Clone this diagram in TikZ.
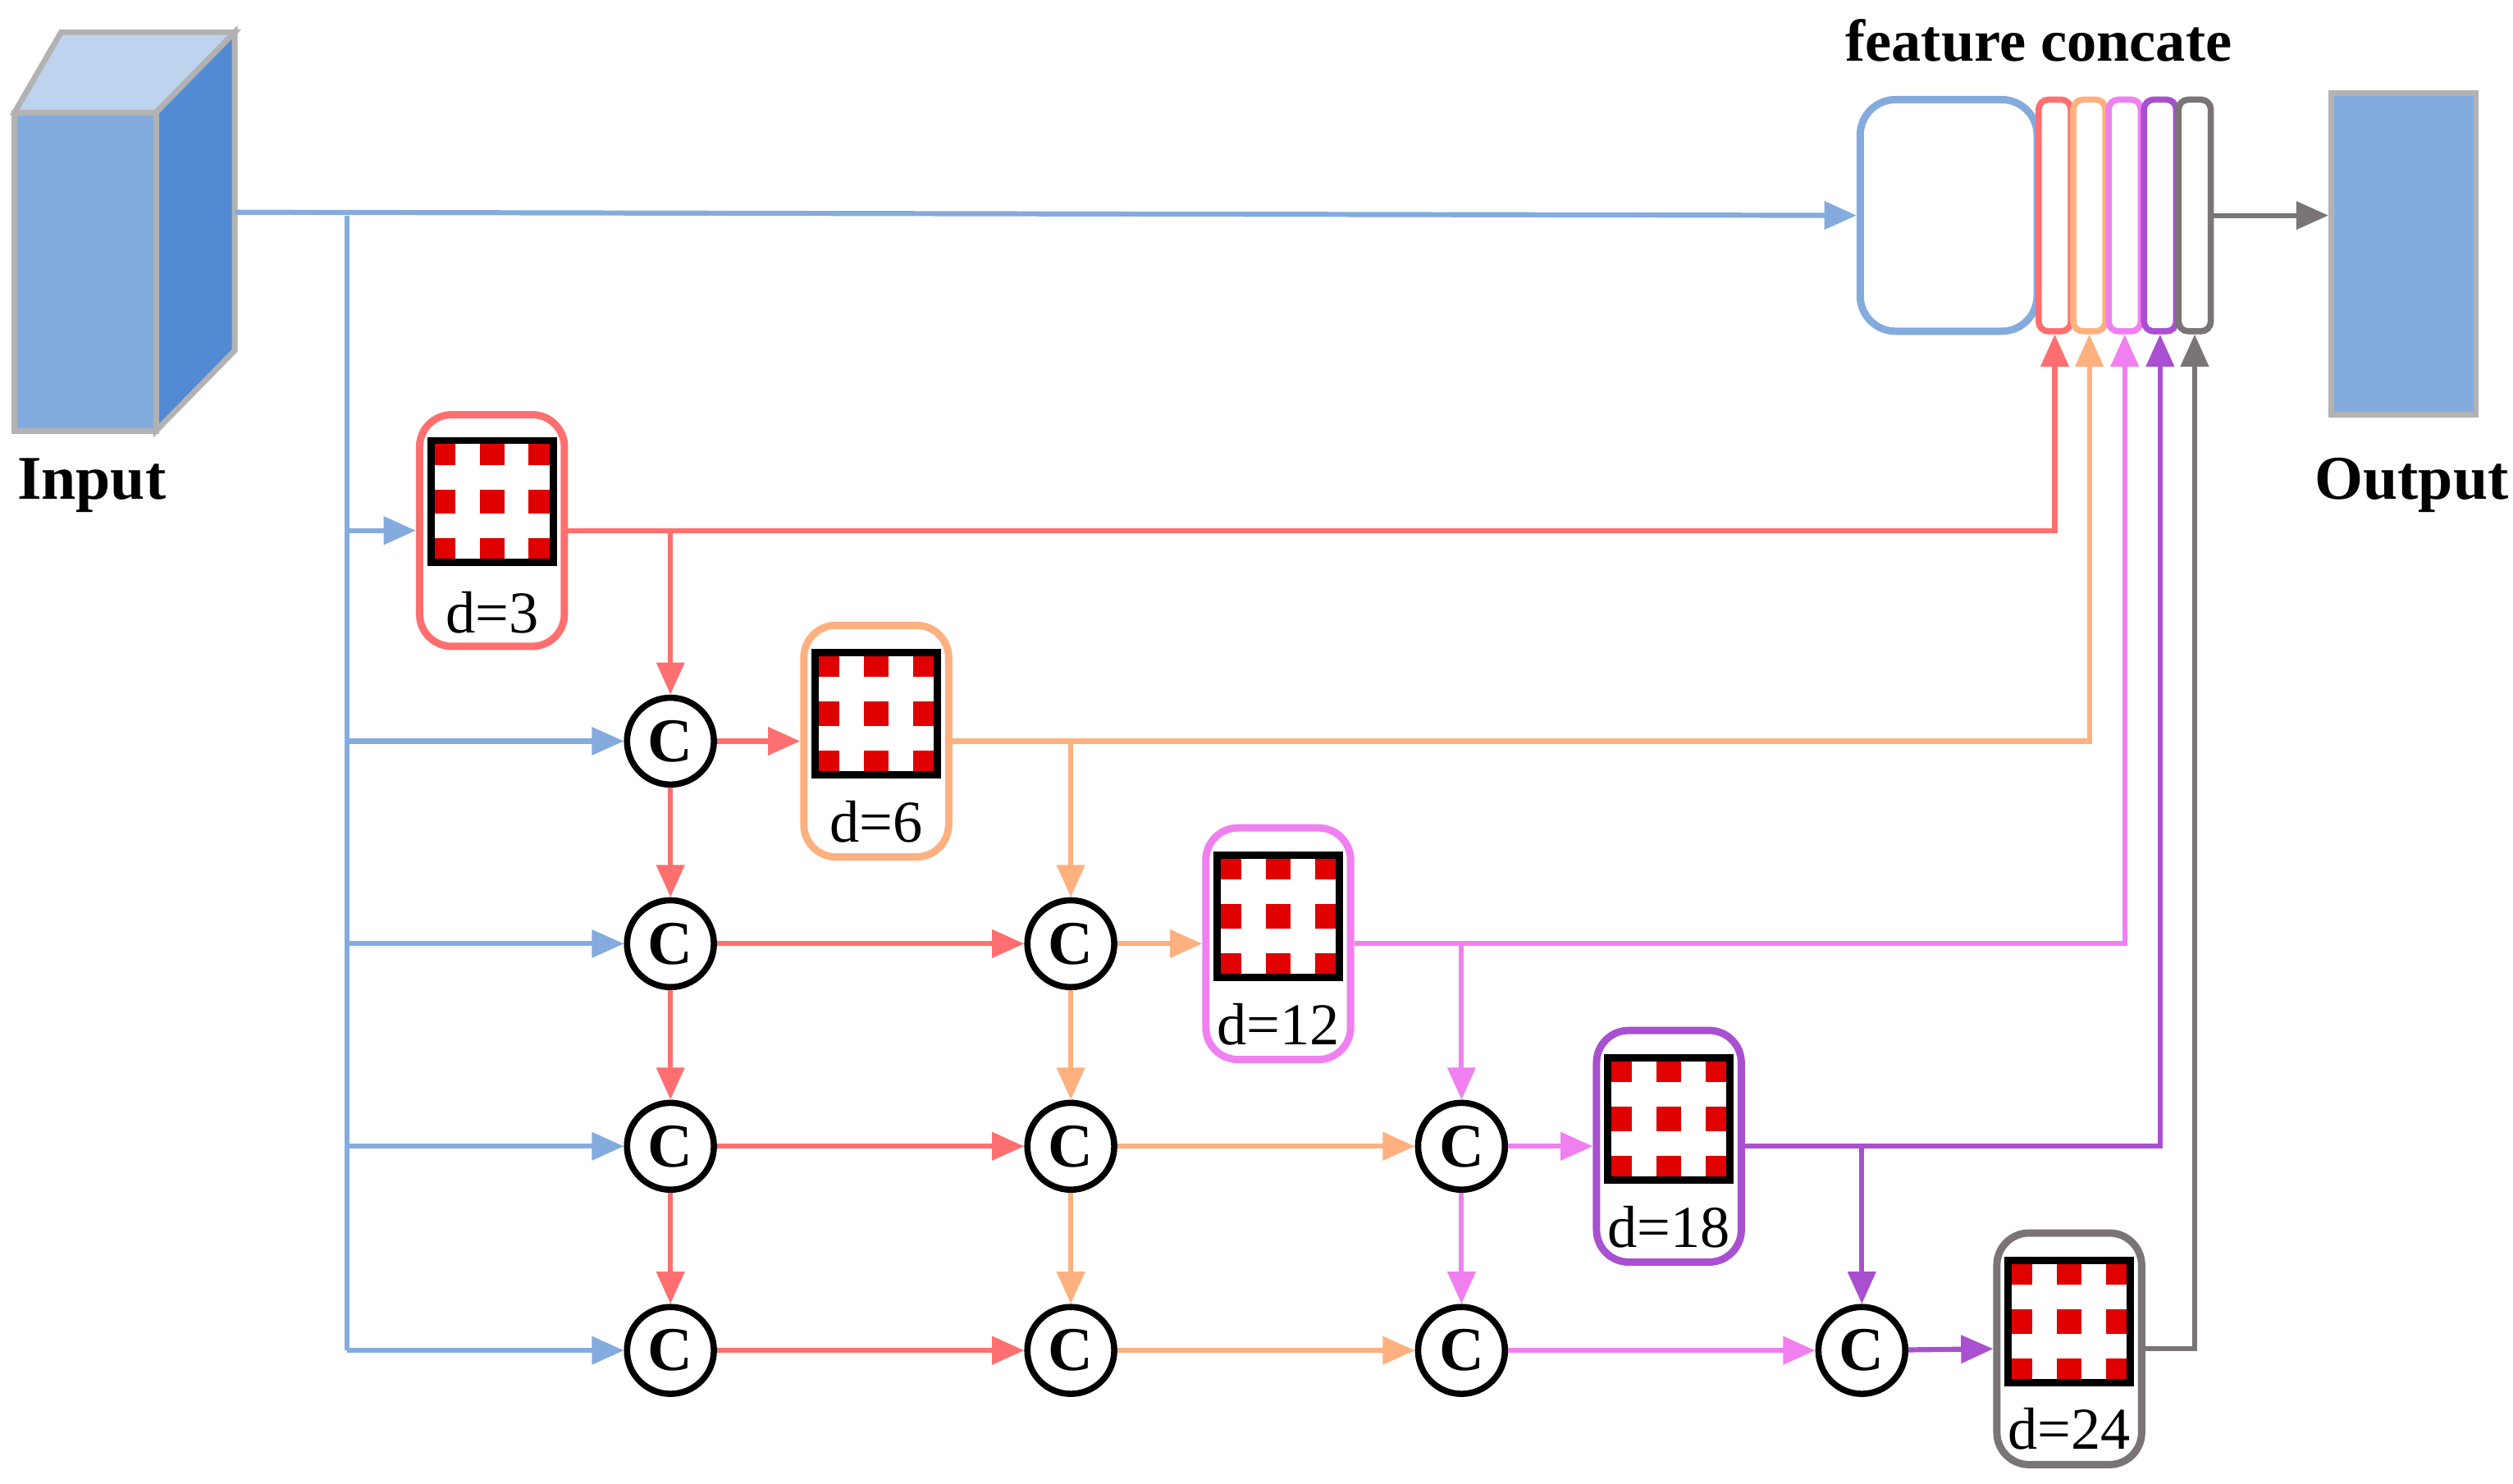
\documentclass[tikz,border=0pt]{standalone}
\usepackage{fontspec}
\setmainfont{Liberation Serif}
\usetikzlibrary{arrows.meta}
\definecolor{cb}{HTML}{84ABDD}
\definecolor{ctop}{HTML}{BDD3EE}
\definecolor{cside}{HTML}{528AD4}
\definecolor{cr}{HTML}{FF6F6F}
\definecolor{co}{HTML}{FFB07F}
\definecolor{cp}{HTML}{F080F0}
\definecolor{cu}{HTML}{A850D0}
\definecolor{cg}{HTML}{7A7474}
\definecolor{pr}{HTML}{E00000}
\begin{document}
\begin{tikzpicture}[x=0.01cm,y=-0.01cm,
  ln/.style={line width=0.9pt,-{Triangle[length=2mm,width=1.7mm]}},
  pl/.style={line width=0.9pt},
  cc/.style={circle,draw=black,line width=1.1pt,minimum size=0.54cm,inner sep=0pt,font=\fontsize{11}{12}\selectfont\bfseries},
  db/.style={draw=#1,line width=1.3pt,rounded corners=2mm,minimum width=0.9cm,minimum height=1.44cm,inner sep=0pt},
  lab/.style={font=\fontsize{10.5}{12}\selectfont},
  strip/.style={draw=#1,line width=1.1pt,rounded corners=0.6mm,minimum width=0.2cm,minimum height=1.44cm,inner sep=0pt}]
\useasboundingbox (0,0) rectangle (1563,923);
\newcommand{\dpat}[2]{%
  \begin{scope}[shift={(#1,#2)}]
  \foreach \i in {0,2,4}{\foreach \j in {0,2,4}{
    \fill[pr] (-38+\i*15.2,-38+\j*15.2) rectangle ++(15.2,15.2);}}
  \draw[line width=1.3pt] (-38,-38) rectangle (38,38);
  \end{scope}}
% input cube
\draw[gray!60,line width=1pt,fill=ctop] (9,70) -- (38,20) -- (146,20) -- (97,70) -- cycle;
\draw[gray!60,line width=1pt,fill=cside] (97,70) -- (146,20) -- (146,218) -- (97,268) -- cycle;
\draw[gray!60,line width=1pt,fill=cb] (9,70) rectangle (97,268);
\node[font=\fontsize{11}{13}\selectfont\bfseries] (tin) at (57,302) {Input};
\coordinate (inp) at (146,132);
% output
\node[draw=gray!60,line width=1pt,fill=cb,minimum width=0.9cm,minimum height=2cm,inner sep=0pt] (out) at (1495,158) {};
\node[font=\fontsize{11}{13}\selectfont\bfseries] (tout) at (1500,302) {Output};
% concat
\node[draw=cb,line width=1.3pt,rounded corners=2.2mm,minimum width=1.1cm,minimum height=1.44cm] (cat) at (1212,134) {};
\node[strip=cr] (s1) at (1278,134) {};
\node[strip=co] (s2) at (1299.5,134) {};
\node[strip=cp] (s3) at (1321.5,134) {};
\node[strip=cu] (s4) at (1343.5,134) {};
\node[strip=cg] (s5) at (1365,134) {};
\node[font=\fontsize{10.5}{12}\selectfont\bfseries] (tcat) at (1268,25) {feature concate};
% dilated boxes
\node[db=cr] (b3) at (306,330) {}; \dpat{306}{312} \node[lab] (l3) at (306,381) {d=3};
\node[db=co] (b6) at (545,461) {}; \dpat{545}{444} \node[lab] (l6) at (545,511) {d=6};
\node[db=cp] (b12) at (795,587) {}; \dpat{795}{570} \node[lab] (l12) at (795,637) {d=12};
\node[db=cu] (b18) at (1038,713) {}; \dpat{1038}{696} \node[lab] (l18) at (1038,763) {d=18};
\node[db=cg] (b24) at (1287,839) {}; \dpat{1287}{822} \node[lab] (l24) at (1287,889) {d=24};
% C nodes
\node[cc] (a1) at (417,461) {C};
\node[cc] (a2) at (417,587) {C};
\node[cc] (a3) at (417,713) {C};
\node[cc] (a4) at (417,840) {C};
\node[cc] (b2) at (666,587) {C};
\node[cc] (bb3) at (666,713) {C};
\node[cc] (bb4) at (666,840) {C};
\node[cc] (c3) at (909,713) {C};
\node[cc] (c4) at (909,840) {C};
\node[cc] (e4) at (1158,840) {C};
\coordinate (bl) at (216,134);
\coordinate (bend) at (216,840);
% blue
\draw[ln,cb] (inp) -- (cat.west);
\draw[pl,cb] (bl) -- (bend);
\draw[ln,cb] (bl |- b3) -- (b3.west);
\draw[ln,cb] (bl |- a1) -- (a1);
\draw[ln,cb] (bl |- a2) -- (a2);
\draw[ln,cb] (bl |- a3) -- (a3);
\draw[ln,cb] (bend) -- (a4);
% red
\draw[ln,cr] (b3.east) -| (s1.south);
\draw[ln,cr] (a1 |- b3) -- (a1);
\draw[ln,cr] (a1) -- (b6.west);
\draw[ln,cr] (a1) -- (a2);
\draw[ln,cr] (a2) -- (a3);
\draw[ln,cr] (a3) -- (a4);
\draw[ln,cr] (a2) -- (b2);
\draw[ln,cr] (a3) -- (bb3);
\draw[ln,cr] (a4) -- (bb4);
% orange
\draw[ln,co] (b6.east) -| (s2.south);
\draw[ln,co] (b2 |- b6) -- (b2);
\draw[ln,co] (b2) -- (b12.west);
\draw[ln,co] (b2) -- (bb3);
\draw[ln,co] (bb3) -- (bb4);
\draw[ln,co] (bb3) -- (c3);
\draw[ln,co] (bb4) -- (c4);
% pink
\draw[ln,cp] (b12.east) -| (s3.south);
\draw[ln,cp] (c3 |- b12) -- (c3);
\draw[ln,cp] (c3) -- (b18.west);
\draw[ln,cp] (c3) -- (c4);
\draw[ln,cp] (c4) -- (e4);
% purple
\draw[ln,cu] (b18.east) -| (s4.south);
\draw[ln,cu] (e4 |- b18) -- (e4);
\draw[ln,cu] (e4) -- (b24.west);
% grey
\draw[ln,cg] (b24.east) -| (s5.south);
\draw[ln,cg] (s5.east) -- (s5.east -| out.west);
\end{tikzpicture}
\end{document}
